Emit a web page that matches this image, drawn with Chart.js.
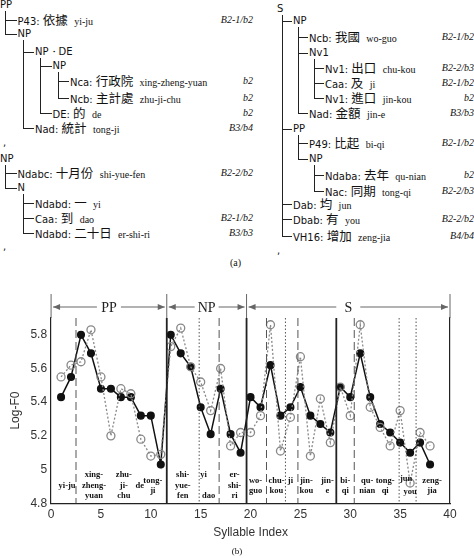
<!DOCTYPE html>
<html><head><meta charset="utf-8">
<script src="https://cdn.jsdelivr.net/npm/chart.js"></script>
<style>
body{margin:0;width:474px;height:558px;background:#fff;position:relative;overflow:hidden;font-family:"DejaVu Sans",sans-serif;color:#111}
.t{position:absolute;white-space:nowrap;font-size:10px;line-height:14px}
.zh{font-family:"Noto Sans CJK TC";font-size:12.5px}
.py{font-family:"Liberation Serif";font-size:10px}
.an{position:absolute;font-family:"Liberation Serif";font-style:italic;font-size:10px;white-space:nowrap;line-height:14px}
.ln{position:absolute;background:#222}
#wrap{position:absolute;left:0;top:286px;width:474px;height:272px}
</style></head><body>
<div id="wrap"><canvas id="c" width="474" height="272"></canvas></div>
<script>
const syllableIndex=[1,2,3,4,5,6,7,8,9,10,11,12,13,14,15,16,17,18,19,20,21,22,23,24,25,26,27,28,29,30,31,32,33,34,35,36,37,38];
const solidF0=[5.43,5.55,5.80,5.69,5.48,5.48,5.43,5.43,5.32,5.32,5.03,5.80,5.69,5.61,5.37,5.21,5.48,5.21,5.10,5.43,5.37,5.62,5.32,5.37,5.49,5.32,5.27,5.22,5.49,5.43,5.69,5.43,5.27,5.22,5.16,5.10,5.16,5.03];
const dottedF0=[5.55,5.62,5.64,5.83,5.55,5.20,5.48,5.45,5.18,5.08,5.09,5.73,5.84,5.61,5.52,5.35,5.60,5.14,5.22,5.22,5.32,5.86,5.11,5.31,5.67,5.08,5.42,5.16,5.49,5.32,5.86,5.37,5.25,5.14,5.35,4.92,5.22,5.14];
const yTicks=[4.8,5,5.2,5.4,5.6,5.8];
const xTicks=[0,5,10,15,20,25,30,35,40];
const solidBounds=[11.6,19.6,28.6];
const dashedBounds=[2.5,16.85,21.6,24.75,30.4];
const dottedBounds=[14.85,23.5,34.9,36.6];
const phrases=[["PP",0,11.6],["NP",11.6,19.6],["S",19.6,40]];
const sylLabels=[[1.6,["yi-ju"],1],[4.3,["xing-","zheng-","yuan"],0],[7.3,["zhu-","ji-","chu"],0],[8.9,["de"],1],[10.2,["tong-","ji"],0.5],
[13.2,["shi-","yue-","fen"],0],[15.3,["yi"],0],[15.8,["dao"],2],[18.4,["er-","shi-","ri"],0],
[20.5,["wo-","guo"],0.5],[22.6,["chu-","kou"],0.5],[24.0,["ji"],0.5],[25.6,["jin-","kou"],0.5],[27.7,["jin-","e"],0.5],
[29.5,["bi-","qi"],0.5],[31.7,["qu-","nian"],0.5],[33.5,["tong-","qi"],0.5],[35.6,["jun"],0.3],[36.0,["you"],1.6],[38.2,["zeng-","jia"],0.5]];

// parse trees: [depth, y, label, chinese, pinyin, annotation]
const leftTree=[[0,-2,"PP","","",""],[1,13,"P43:","依據","yi-ju","B2-1/b2"],[1,27,"NP","","",""],[2,45,"NP・DE","","",""],[3,59,"NP","","",""],
[4,74,"Nca:","行政院","xing-zheng-yuan","b2"],[4,91,"Ncb:","主計處","zhu-ji-chu","b2"],[3,106,"DE:","的","de","b2"],[2,121,"Nad:","統計","tong-ji","B3/b4"],
[0,152,"NP","","",""],[1,166,"Ndabc:","十月份","shi-yue-fen","B2-2/b2"],[1,181,"N","","",""],[2,196,"Ndabd:","一","yi",""],[2,211,"Caa:","到","dao","B2-1/b2"],[2,226,"Ndabd:","二十日","er-shi-ri","B3/b3"]];
const rightTree=[[0,2,"S","","",""],[1,14,"NP","","",""],[2,30,"Ncb:","我國","wo-guo","B2-1/b2"],[2,46,"Nv1","","",""],[3,61,"Nv1:","出口","chu-kou","B2-2/b3"],
[3,76,"Caa:","及","ji","B2-1/b2"],[3,91,"Nv1:","進口","jin-kou","b2"],[2,106,"Nad:","金額","jin-e","B3/b3"],[1,122,"PP","","",""],[2,136,"P49:","比起","bi-qi","B2-1/b2"],
[2,152,"NP","","",""],[3,168,"Ndaba:","去年","qu-nian","b2"],[3,184,"Nac:","同期","tong-qi","B2-2/b3"],[1,197,"Dab:","均","jun",""],[1,212,"Dbab:","有","you","B2-2/b2"],[1,229,"VH16:","增加","zeng-jia","B4/b4"]];

function drawTree(tree,base,annRight,step){
  tree.forEach((it,i)=>{
    const [d,y,lab,zh,py,an]=it;
    const x=base+d*step;
    const e=document.createElement('div');e.className='t';e.style.left=x+'px';e.style.top=y+'px';
    e.innerHTML=lab+(zh?' <span class="zh">'+zh+'</span>':'')+(py?'&nbsp; <span class="py">'+py+'</span>':'');
    document.body.appendChild(e);
    if(an){const a=document.createElement('div');a.className='an';a.style.right=(474-annRight)+'px';a.style.top=y+'px';a.textContent=an;document.body.appendChild(a);}
    if(d>0){
      let p=i-1;while(tree[p][0]!==d-1)p--;
      const vx=base+(d-1)*step+5;
      const v=document.createElement('div');v.className='ln';v.style.left=vx+'px';v.style.top=(tree[p][1]+13)+'px';v.style.width='1px';v.style.height=(y+7-tree[p][1]-13)+'px';document.body.appendChild(v);
      const h=document.createElement('div');h.className='ln';h.style.left=vx+'px';h.style.top=(y+7)+'px';h.style.width=(x-vx-1)+'px';h.style.height='1px';document.body.appendChild(h);
    }
  });
}
drawTree(leftTree,0,253,17.5);
drawTree(rightTree,277,474,16);
[[3,136],[3,240],[277,244]].forEach(p=>{const e=document.createElement('div');e.className='t';e.style.left=p[0]+'px';e.style.top=p[1]+'px';e.textContent=',';document.body.appendChild(e);});
const lab=document.createElement('div');lab.className='an';lab.style.fontStyle='normal';lab.style.left='230px';lab.style.top='256px';lab.textContent='(a)';document.body.appendChild(lab);

const overlay={id:'overlay',afterDatasetsDraw(ch){
  const c=ch.ctx,xs=ch.scales.x,ys=ch.scales.y,a=ch.chartArea;
  c.save();
  function vl(v,dash,w,col){c.beginPath();c.setLineDash(dash);c.lineWidth=w;c.strokeStyle=col;const X=xs.getPixelForValue(v);c.moveTo(X,a.top);c.lineTo(X,a.bottom);c.stroke();}
  solidBounds.forEach(v=>vl(v,[],1.8,'#222'));
  dashedBounds.forEach(v=>vl(v,[8,4],1,'#555'));
  dottedBounds.forEach(v=>vl(v,[1.5,2],1,'#555'));
  c.setLineDash([]);
  c.fillStyle='#111';c.font='bold 8.5px "Liberation Serif"';c.textAlign='center';c.textBaseline='middle';
  sylLabels.forEach(([x,lines,off])=>{const X=xs.getPixelForValue(x);lines.forEach((t,k)=>c.fillText(t,X,a.bottom-28+(k+off)*10.5));});
  const hy=a.top-11;c.strokeStyle='#666';c.lineWidth=1;c.fillStyle='#666';
  phrases.forEach(([t,x0,x1])=>{
    const X0=xs.getPixelForValue(x0)+2,X1=xs.getPixelForValue(x1)-2,M=(X0+X1)/2;
    c.beginPath();c.moveTo(X0,hy);c.lineTo(X1,hy);c.stroke();
    c.beginPath();c.moveTo(X0,hy);c.lineTo(X0+7,hy-3);c.lineTo(X0+7,hy+3);c.fill();
    c.beginPath();c.moveTo(X1,hy);c.lineTo(X1-7,hy-3);c.lineTo(X1-7,hy+3);c.fill();
    c.fillStyle='#fff';c.fillRect(M-12,hy-8,24,16);c.fillStyle='#222';c.font='14px "Liberation Serif"';c.fillText(t,M,hy+1);c.fillStyle='#666';
  });
  [0,11.6,19.6,40].forEach(v=>{const X=xs.getPixelForValue(v);c.beginPath();c.moveTo(X,hy-13);c.lineTo(X,a.top);c.stroke();});
  c.fillStyle='#111';c.font='9px "Liberation Serif"';c.fillText('(b)',237,ch.height-6);
  c.restore();
}};
new Chart(document.getElementById('c'),{
  type:'line',
  data:{labels:syllableIndex,datasets:[
    {data:syllableIndex.map((x,i)=>({x,y:dottedF0[i]})),borderColor:'#888',borderDash:[2,2],borderWidth:1.3,pointStyle:'circle',pointRadius:4,pointBackgroundColor:'rgba(255,255,255,0)',pointBorderColor:'#888',pointBorderWidth:1.3},
    {data:syllableIndex.map((x,i)=>({x,y:solidF0[i]})),borderColor:'#111',borderWidth:1.5,pointRadius:3.3,pointBackgroundColor:'#111',pointBorderColor:'#111'}
  ]},
  options:{responsive:false,animation:false,devicePixelRatio:1,
    layout:{padding:{top:32,right:16,left:4,bottom:14}},
    plugins:{legend:{display:false},tooltip:{enabled:false}},
    scales:{
      x:{type:'linear',min:0,max:40,afterBuildTicks:s=>{s.ticks=xTicks.map(v=>({value:v}));},
        grid:{display:false,drawTicks:false},border:{color:'#222',width:1.2},
        ticks:{color:'#333',font:{size:12,family:'Liberation Sans'},padding:4},
        title:{display:true,text:'Syllable Index',color:'#333',font:{size:12,family:'Liberation Sans'},padding:{top:0}}},
      y:{min:4.8,max:5.9,afterBuildTicks:s=>{s.ticks=yTicks.map(v=>({value:v}));},
        grid:{display:false,drawTicks:false},border:{color:'#222',width:1.2},
        ticks:{color:'#333',font:{size:12,family:'Liberation Sans'},padding:4,callback:v=>v===5?'5':v.toFixed(1)},
        title:{display:true,text:'Log-F0',color:'#333',font:{size:12,family:'Liberation Sans'}}},
      y2:{position:'right',min:4.8,max:5.9,ticks:{display:false},grid:{display:false},border:{color:'#222',width:1.2}}
    }
  },
  plugins:[overlay]
});
</script>
</body></html>
